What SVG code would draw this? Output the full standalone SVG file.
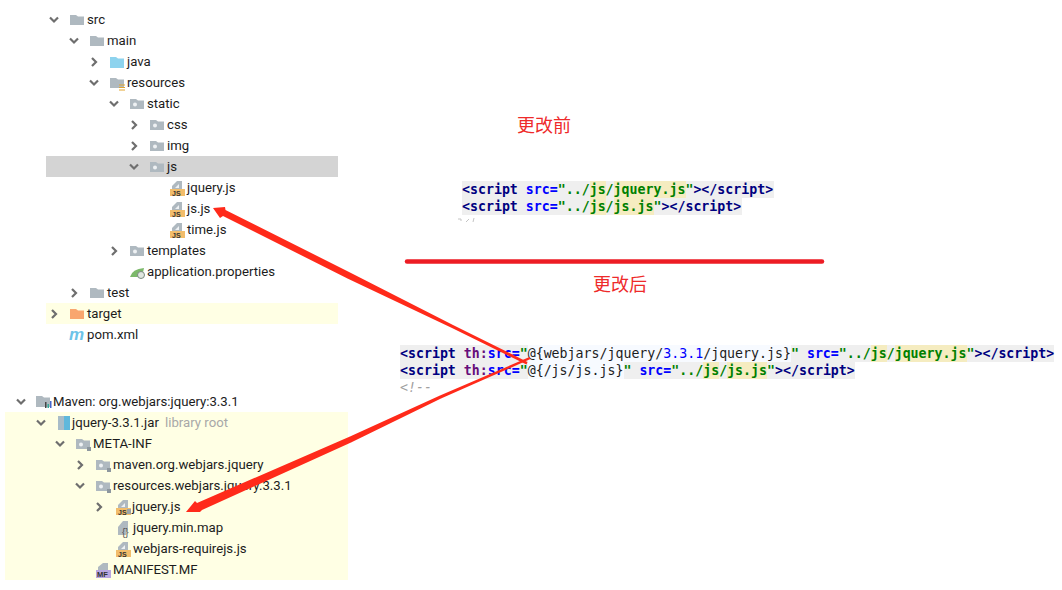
<svg xmlns="http://www.w3.org/2000/svg" width="1062" height="590" viewBox="0 0 1062 590">
<style>
.t{font:13.200px Roboto,"Noto Sans",sans-serif;fill:#1c1c1c}
.g{fill:#afb9c0}
.c{fill:none;stroke:#6e6e6e;stroke-width:2.200}
.m{font:13.25px "DejaVu Sans Mono",monospace;fill:#000080;font-weight:600;white-space:pre}
.b{fill:#0000ff}.s{fill:#008000}.p{fill:#660e7a}.k{fill:#1c1c1c;font-weight:400}.n{fill:#0000ff;font-weight:400}
.r{font:18px "Noto Sans CJK SC",sans-serif;fill:#ee2a2a}
.j{fill:#f2bd6b}
.jt{font:bold 7px "Liberation Sans",sans-serif;fill:#333}
.hl{fill:#f5ecc0}
</style>
<defs>
<g id="fo"><path class="g" d="M0 1h6l2 1.500h6V11H0z"/></g>
<g id="fd"><path class="g" d="M0 1h6l2 1.500h6V11H0z"/><circle cx="5" cy="6.500" r="2" fill="#eef1f3"/></g>
<g id="fl"><path class="g" d="M0 1h6l2 1.500h6V11H0z"/><circle cx="5" cy="6.500" r="2" fill="#eef1f3"/><rect x="11" y="9" width="4" height="4" fill="#8d979e"/></g>
<g id="js"><path class="g" d="M2 8V5L7 0h5v8z"/><path d="M5 7 9 3v4z" fill="#eef1f3"/><rect x="0" y="8" width="15" height="7" class="j"/><text x="2" y="14.500" class="jt">JS</text></g>
<path id="cd" class="c" d="M-4-2.500 0 1.500 4-2.500"/>
<path id="cr" class="c" d="M-2-4 2 0-2 4"/>
</defs>

<rect x="46" y="156" width="292" height="21" fill="#d4d4d4"/>
<rect x="46" y="303" width="292" height="21" fill="#ffffe4"/>
<rect x="5" y="412" width="343" height="168" fill="#ffffe4"/>

<g id="tree-project">
<use href="#cd" x="54" y="20"/><use href="#fo" x="70" y="14"/><text class="t" x="87" y="24">src</text>
<use href="#cd" x="74" y="41"/><use href="#fo" x="90" y="35"/><text class="t" x="107" y="45">main</text>
<use href="#cr" x="94" y="62"/><path d="M110 57h6l2 1.500h6V68h-14z" fill="#8dd3ee"/><text class="t" x="127" y="66">java</text>
<use href="#cd" x="94" y="83"/><use href="#fo" x="110" y="77"/><path d="M119 85h6M119 87.500h6M119 90h6" stroke="#e3a52f" fill="none"/><text class="t" x="127" y="87">resources</text>
<use href="#cd" x="114" y="104"/><use href="#fd" x="130" y="98"/><text class="t" x="147" y="108">static</text>
<use href="#cr" x="134" y="125"/><use href="#fd" x="150" y="119"/><text class="t" x="167" y="129">css</text>
<use href="#cr" x="134" y="146"/><use href="#fd" x="150" y="140"/><text class="t" x="167" y="150">img</text>
<use href="#cd" x="134" y="167"/><use href="#fd" x="150" y="161"/><text class="t" x="167" y="171">js</text>
<use href="#js" x="170" y="181"/><text class="t" x="187" y="192">jquery.js</text>
<use href="#js" x="170" y="202"/><text class="t" x="187" y="213">js.js</text>
<use href="#js" x="170" y="223"/><text class="t" x="187" y="234">time.js</text>
<use href="#cr" x="114" y="251"/><use href="#fd" x="130" y="245"/><text class="t" x="147" y="255">templates</text>
<path d="M130 277q2-8 14-9-1 6-4 9z" fill="#7cb96a"/><circle cx="141" cy="275" r="3.500" fill="#dfe6e0" stroke="#7a8a80"/><text class="t" x="147" y="276">application.properties</text>
<use href="#cr" x="74" y="293"/><use href="#fo" x="90" y="287"/><text class="t" x="107" y="297">test</text>
<use href="#cr" x="54" y="314"/><path d="M70 309h6l2 1.500h6V319H70z" fill="#f9a66f"/><text class="t" x="87" y="318">target</text>
<text x="69" y="340" font-family="Liberation Sans,sans-serif" font-size="17" font-style="italic" font-weight="700" fill="#6cc3e8">m</text><text class="t" x="87" y="339">pom.xml</text>
</g>

<g id="tree-maven">
<use href="#cd" x="21" y="402"/><path class="g" d="M36 396h6l2 1.500h6V407H36z"/><path d="M45 402h1.500v6H45z" fill="#444"/><path d="M47.500 404H49v4h-1.500z" fill="#3a9"/><path d="M50 401h1.500v7H50z" fill="#46c"/><text class="t" x="53" y="406">Maven: org.webjars:jquery:3.3.1</text>
<use href="#cd" x="41" y="423"/><rect x="58" y="416" width="6" height="14" fill="#a8bcc8"/><rect x="64" y="416" width="6" height="14" fill="#5fb8dc"/><text class="t" x="72" y="427">jquery-3.3.1.jar</text><text class="t" x="165" y="427" style="fill:#a8a8a8">library root</text>
<use href="#cd" x="60" y="444"/><use href="#fl" x="76" y="438"/><text class="t" x="93" y="448">META-INF</text>
<use href="#cr" x="80" y="465"/><use href="#fl" x="96" y="459"/><text class="t" x="113" y="469">maven.org.webjars.jquery</text>
<use href="#cd" x="80" y="486"/><use href="#fl" x="96" y="480"/><text class="t" x="113" y="490">resources.webjars.jquery.3.3.1</text>
<use href="#cr" x="99" y="507"/><use href="#js" x="116" y="500"/><rect x="127" y="509" width="4" height="5" fill="#9aa3a8"/><text class="t" x="132" y="511">jquery.js</text>
<path class="g" d="M118 527 123 521h5v8l-2 6h-8z"/><text x="122" y="536" font-family="Liberation Sans" font-size="10" fill="#555">{}</text><text class="t" x="133" y="532">jquery.min.map</text>
<use href="#js" x="116" y="542"/><text class="t" x="133" y="553">webjars-requirejs.js</text>
<path class="g" d="M98 570V567L103 563h5v7z"/><rect x="96" y="570" width="15" height="8" fill="#b9a6e0"/><text x="97" y="577" font-family="Liberation Sans" font-size="7.500" font-weight="700" fill="#333">MF</text><text class="t" x="113" y="574">MANIFEST.MF</text>
</g>

<g id="code-before">
<rect x="462" y="181" width="312" height="17" fill="#efefef"/>
<rect x="462" y="198" width="280" height="17" fill="#efefef"/>
<path class="hl" d="M590 181h16v17h-16zM614 181h72v17h-72zM590 198h16v17h-16zM614 198h40v17h-40z"/>
<text class="m" x="462" y="194">&lt;script <tspan class="b">src=</tspan><tspan class="s">"../js/jquery.js"</tspan>&gt;&lt;/script&gt;</text>
<text class="m" x="462" y="211">&lt;script <tspan class="b">src=</tspan><tspan class="s">"../js/js.js"</tspan>&gt;&lt;/script&gt;</text>
<path d="M458 219h3v2M466 222l3-3M474 218l-1 4" stroke="#c4c4c4" fill="none"/>
</g>

<g id="code-after">
<rect x="400" y="345" width="654" height="17" fill="#efefef"/>
<rect x="400" y="362" width="455" height="17" fill="#efefef"/>
<path d="M528 345h263v17h-263zM528 362h96v17h-96z" fill="#f7faff"/>
<path class="hl" d="M871 345h16v17h-16zM895 345h72v17h-72zM703 362h16v17h-16zM727 362h40v17h-40z"/>
<text class="m" x="400" y="358">&lt;script <tspan class="p">th:</tspan><tspan class="b">src=</tspan><tspan class="s">"</tspan><tspan class="k">@{webjars/jquery/</tspan><tspan class="n">3.3.1</tspan><tspan class="k">/jquery.js}</tspan><tspan class="s">"</tspan> <tspan class="b">src=</tspan><tspan class="s">"../js/jquery.js"</tspan>&gt;&lt;/script&gt;</text>
<text class="m" x="400" y="375">&lt;script <tspan class="p">th:</tspan><tspan class="b">src=</tspan><tspan class="s">"</tspan><tspan class="k">@{/js/js.js}</tspan><tspan class="s">"</tspan> <tspan class="b">src=</tspan><tspan class="s">"../js/js.js"</tspan>&gt;&lt;/script&gt;</text>
<text x="400" y="392" font-family="DejaVu Sans Mono" font-size="13.25" font-style="italic" fill="#a0a0a0">&lt;!--</text>
</g>

<g id="labels">
<text class="r" x="517" y="132">更改前</text>
<text class="r" x="593" y="291">更改后</text>
</g>

<g id="connectors">
<line x1="407" y1="261.500" x2="822" y2="261.500" stroke="#ed1c24" stroke-width="4.500" stroke-linecap="round"/>
<path d="M213 208 225 207 225.500 210 350.500 272.700 453 325 527.500 362 526.500 364.500 452 328 348 278.700 223 216 220 218z" fill="#ff2a1a"/>
<path d="M186 512 195 501 197 503 350 436.500 440 395.500 529.500 357 530.500 359 441 398.500 351 442.500 202 510 200 512z" fill="#ff2a1a"/>
</g>
</svg>
